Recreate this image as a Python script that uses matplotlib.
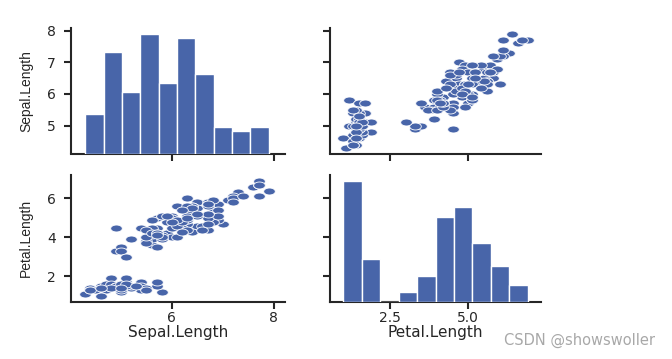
import matplotlib
matplotlib.use("Agg")
import matplotlib.pyplot as plt
import numpy as np
from matplotlib.path import Path

sepal_length = [
    5.1, 4.9, 4.7, 4.6, 5.0, 5.4, 4.6, 5.0, 4.4, 4.9, 5.4, 4.8, 4.8, 4.3, 5.8, 5.7, 5.4, 5.1, 5.7, 5.1,
    5.4, 5.1, 4.6, 5.1, 4.8, 5.0, 5.0, 5.2, 5.2, 4.7, 4.8, 5.4, 5.2, 5.5, 4.9, 5.0, 5.5, 4.9, 4.4, 5.1,
    5.0, 4.5, 4.4, 5.0, 5.1, 4.8, 5.1, 4.6, 5.3, 5.0,
    7.0, 6.4, 6.9, 5.5, 6.5, 5.7, 6.3, 4.9, 6.6, 5.2, 5.0, 5.9, 6.0, 6.1, 5.6, 6.7, 5.6, 5.8, 6.2, 5.6,
    5.9, 6.1, 6.3, 6.1, 6.4, 6.6, 6.8, 6.7, 6.0, 5.7, 5.5, 5.5, 5.8, 6.0, 5.4, 6.0, 6.7, 6.3, 5.6, 5.5,
    5.5, 6.1, 5.8, 5.0, 5.6, 5.7, 5.7, 6.2, 5.1, 5.7,
    6.3, 5.8, 7.1, 6.3, 6.5, 7.6, 4.9, 7.3, 6.7, 7.2, 6.5, 6.4, 6.8, 5.7, 5.8, 6.4, 6.5, 7.7, 7.7, 6.0,
    6.9, 5.6, 7.7, 6.3, 6.7, 7.2, 6.2, 6.1, 6.4, 7.2, 7.4, 7.9, 6.4, 6.3, 6.1, 7.7, 6.3, 6.4, 6.0, 6.9,
    6.7, 6.9, 5.8, 6.8, 6.7, 6.7, 6.3, 6.5, 6.2, 5.9,
]
petal_length = [
    1.4, 1.4, 1.3, 1.5, 1.4, 1.7, 1.4, 1.5, 1.4, 1.5, 1.5, 1.6, 1.4, 1.1, 1.2, 1.5, 1.3, 1.4, 1.7, 1.5,
    1.7, 1.5, 1.0, 1.7, 1.9, 1.6, 1.6, 1.5, 1.4, 1.6, 1.6, 1.5, 1.5, 1.4, 1.5, 1.2, 1.3, 1.5, 1.3, 1.5,
    1.3, 1.3, 1.3, 1.6, 1.9, 1.4, 1.6, 1.4, 1.5, 1.4,
    4.7, 4.5, 4.9, 4.0, 4.6, 4.5, 4.7, 3.3, 4.6, 3.9, 3.5, 4.2, 4.0, 4.7, 3.6, 4.4, 4.5, 4.1, 4.5, 3.9,
    4.8, 4.0, 4.9, 4.7, 4.3, 4.4, 4.8, 5.0, 4.5, 3.5, 3.8, 3.7, 3.9, 5.1, 4.5, 4.5, 4.7, 4.4, 4.1, 4.0,
    4.4, 4.6, 4.0, 3.3, 4.2, 4.2, 4.2, 4.3, 3.0, 4.1,
    6.0, 5.1, 5.9, 5.6, 5.8, 6.6, 4.5, 6.3, 5.8, 6.1, 5.1, 5.3, 5.5, 5.0, 5.1, 5.3, 5.5, 6.7, 6.9, 5.0,
    5.7, 4.9, 6.7, 4.9, 5.7, 6.0, 4.8, 4.9, 5.6, 5.8, 6.1, 6.4, 5.6, 5.1, 5.6, 6.1, 5.6, 5.5, 4.8, 5.4,
    5.6, 5.1, 5.1, 5.9, 5.7, 5.2, 5.0, 5.2, 5.4, 5.1,
]
var_names = ["Sepal.Length", "Petal.Length"]
xticks = {"Sepal.Length": [6, 8], "Petal.Length": [2.5, 5.0]}
yticks = {"Sepal.Length": [5, 6, 7, 8], "Petal.Length": [2, 4, 6]}
xlims = {"Sepal.Length": (4.02, 8.22), "Petal.Length": (0.58, 7.32)}
ylims = {"Sepal.Length": (4.12, 8.08), "Petal.Length": (0.705, 7.195)}
data = {"Sepal.Length": np.array(sepal_length), "Petal.Length": np.array(petal_length)}

blue = "#4865a9"
dark = "#262626"

# horizontally stretched look: elliptical marker
t = np.linspace(0, 2 * np.pi, 40)
ellipse = Path(np.column_stack([np.cos(t), 0.6 * np.sin(t)]), closed=True)

fig = plt.figure(figsize=(6.72, 3.59), dpi=100)
W, H = 672, 359
cols = [(71, 285), (330, 541)]
rows = [(28, 153.5), (175, 301.7)]

for i, yv in enumerate(var_names):
    for j, xv in enumerate(var_names):
        x0, x1 = cols[j]
        y0, y1 = rows[i]
        ax = fig.add_axes([x0 / W, 1 - y1 / H, (x1 - x0) / W, (y1 - y0) / H])
        ax.set_xlim(*xlims[xv])
        ax.set_ylim(*ylims[yv])
        ax.set_xticks(xticks[xv])
        ax.set_yticks(yticks[yv])
        for s in ["top", "right"]:
            ax.spines[s].set_visible(False)
        for s in ["left", "bottom"]:
            ax.spines[s].set_linewidth(1.5)
            ax.spines[s].set_color(dark)
        ax.tick_params(width=1.5, length=5, color=dark, labelcolor=dark,
                       labelsize=10, pad=2)
        ax.tick_params(axis="y", pad=6)
        if i == 0:
            ax.tick_params(labelbottom=False)
        else:
            ax.set_xlabel(xv, fontsize=11, color=dark, labelpad=0)
        if j == 1:
            ax.tick_params(labelleft=False)
        else:
            ax.set_ylabel(yv, fontsize=10, color=dark, labelpad=10,
                          family="Liberation Sans")
        if i == j:
            tw = ax.twinx()
            tw.hist(data[xv], bins=10, color=blue, edgecolor="white", linewidth=1)
            tw.set_ylim(bottom=0)
            tw.axis("off")
        else:
            ax.scatter(data[xv], data[yv], s=70, marker=ellipse, color=blue,
                       edgecolors="white", linewidths=0.6)

fig.text(0.975, 0.03, "CSDN @showswoller", ha="right", va="bottom",
         fontsize=10.5, color="#a8a8a8")

fig.savefig("out.png", dpi=100)
